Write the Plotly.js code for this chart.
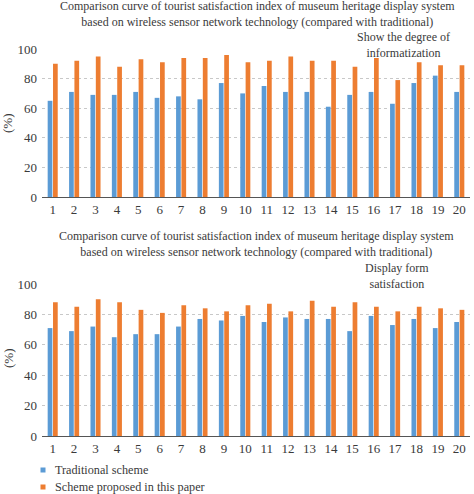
<!DOCTYPE html>
<html>
<head>
<meta charset="utf-8">
<script src="https://cdn.plot.ly/plotly-3.0.1.min.js"></script>
<style>
  html, body { margin: 0; padding: 0; background: #fff; }
  #chart { width: 474px; height: 494px; }
</style>
</head>
<body>
<div id="chart"></div>
<script>
// data
var samples = ['1','2','3','4','5','6','7','8','9','10','11','12','13','14','15','16','17','18','19','20'];

// top panel: degree of informatization
var infoTraditional = [65, 71, 69, 69, 71, 67, 68, 66, 77, 70, 75, 71, 71, 61, 69, 71, 63, 77, 82, 71];
var infoProposed    = [90, 92, 95, 88, 93, 91, 94, 94, 96, 91, 92, 95, 92, 92, 88, 94, 79, 91, 89, 89];

// bottom panel: display form satisfaction
var formTraditional = [71, 69, 72, 65, 67, 67, 72, 77, 76, 79, 75, 78, 77, 77, 69, 79, 73, 77, 71, 75];
var formProposed    = [88, 85, 90, 88, 83, 81, 86, 84, 82, 86, 87, 82, 89, 85, 88, 85, 82, 85, 84, 83];

var seriesNames = ['Traditional scheme', 'Scheme proposed in this paper'];
var titleText = 'Comparison curve of tourist satisfaction index of museum heritage display system<br>based on wireless sensor network technology (compared with traditional)';

var blue = '#5b9bd5';
var orange = '#ed7d31';
var serif = 'Liberation Serif, Times New Roman, serif';
var ink = '#3a3a3a';

var W = 474, H = 494, L = 42, R = 4;
function px(x) { return (x - L) / (W - L - R); }
function py(y) { return 1 - y / H; }

var data = [
  { x: samples, y: infoTraditional, type: 'bar', name: seriesNames[0], marker: {color: blue}, xaxis: 'x', yaxis: 'y' },
  { x: samples, y: infoProposed, type: 'bar', name: seriesNames[1], marker: {color: orange}, xaxis: 'x', yaxis: 'y' },
  { x: samples, y: formTraditional, type: 'bar', name: seriesNames[0], marker: {color: blue}, xaxis: 'x2', yaxis: 'y2' },
  { x: samples, y: formProposed, type: 'bar', name: seriesNames[1], marker: {color: orange}, xaxis: 'x2', yaxis: 'y2' }
];

function xax(anchor) {
  return {
    type: 'category', anchor: anchor, domain: [0, 1], range: [-0.5, 19.5],
    showline: true, linecolor: '#555', linewidth: 1.2,
    showgrid: false, ticks: '', zeroline: false,
    tickfont: {family: serif, size: 13, color: ink}
  };
}
function yax(anchor, dom) {
  return {
    anchor: anchor, domain: dom, range: [0, 100], dtick: 20,
    showline: false, zeroline: false, ticks: '',
    showgrid: true, gridcolor: '#c8c8c8', griddash: 'dot', gridwidth: 1,
    tickfont: {family: serif, size: 13, color: ink}, ticklabelstandoff: 4
  };
}

// legend drawn by hand below the lower panel (small square keys)
var legendRows = [470, 487];
var legendShapes = seriesNames.map(function (name, i) {
  return {
    type: 'rect', xref: 'paper', yref: 'paper', line: {width: 0},
    fillcolor: i === 0 ? blue : orange,
    x0: px(40.5), x1: px(45.5), y0: py(legendRows[i] + 2.5), y1: py(legendRows[i] - 2.5)
  };
});
var legendLabels = seriesNames.map(function (name, i) {
  return {
    text: name, xref: 'paper', yref: 'paper', x: px(53), y: py(legendRows[i]),
    xanchor: 'left', yanchor: 'middle', showarrow: false,
    font: {family: serif, size: 12.2, color: ink}
  };
});

var layout = {
  width: W, height: H,
  margin: {l: L, r: R, t: 0, b: 0},
  paper_bgcolor: '#fff', plot_bgcolor: '#fff',
  barmode: 'group', bargap: 0.5, bargroupgap: 0.12,
  xaxis: xax('y'),
  yaxis: yax('x', [py(197), py(49)]),
  xaxis2: xax('y2'),
  yaxis2: yax('x2', [py(436), py(284)]),
  showlegend: false,
  shapes: legendShapes,
  annotations: [
    {text: titleText, xref: 'paper', yref: 'paper', x: px(257), y: py(14), xanchor: 'center', yanchor: 'middle', showarrow: false, font: {family: serif, size: 12, color: ink}},
    {text: titleText, xref: 'paper', yref: 'paper', x: px(256), y: py(244), xanchor: 'center', yanchor: 'middle', showarrow: false, font: {family: serif, size: 12, color: ink}},
    {text: 'Show the degree of<br>informatization', xref: 'paper', yref: 'paper', x: px(403), y: py(45), xanchor: 'center', yanchor: 'middle', showarrow: false, font: {family: serif, size: 12, color: ink}},
    {text: 'Display form<br>satisfaction', xref: 'paper', yref: 'paper', x: px(397), y: py(275.5), xanchor: 'center', yanchor: 'middle', showarrow: false, font: {family: serif, size: 12, color: ink}},
    {text: '(%)', textangle: -90, xref: 'paper', yref: 'paper', x: px(8), y: py(123), xanchor: 'center', yanchor: 'middle', showarrow: false, font: {family: serif, size: 13, color: ink}},
    {text: '(%)', textangle: -90, xref: 'paper', yref: 'paper', x: px(8), y: py(358), xanchor: 'center', yanchor: 'middle', showarrow: false, font: {family: serif, size: 13, color: ink}}
  ].concat(legendLabels)
};

Plotly.newPlot('chart', data, layout, {staticPlot: true, displayModeBar: false});
</script>
</body>
</html>
